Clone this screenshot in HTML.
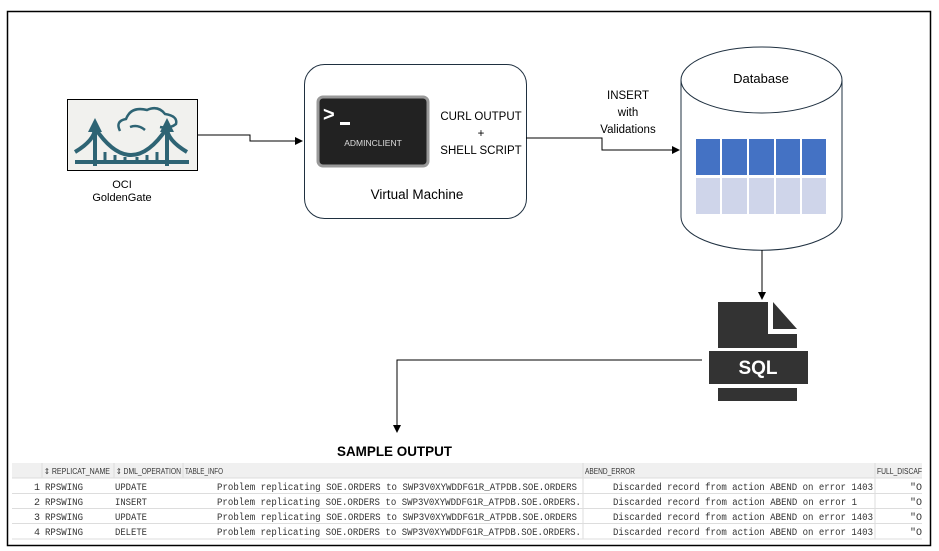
<!DOCTYPE html>
<html><head><meta charset="utf-8"><style>
html,body{margin:0;padding:0;background:#fff;}
svg{display:block;}
text{font-family:"Liberation Sans",sans-serif;}
.m{font-family:"Liberation Mono",monospace;font-size:10px;fill:#333;}
.h{font-size:8px;fill:#333;}
</style></head><body>
<svg width="939" height="551" viewBox="0 0 939 551" xmlns="http://www.w3.org/2000/svg">
<defs><marker id="a" markerWidth="8" markerHeight="8" refX="7" refY="4" orient="auto" markerUnits="userSpaceOnUse"><path d="M0,0 L8,4 L0,8z" fill="#000"/></marker></defs>
<rect x="7.5" y="11.5" width="923" height="534" fill="none" stroke="#000" stroke-width="1.5"/>
<!-- OCI -->
<rect x="67.5" y="99.5" width="130" height="71" fill="#f1f1ee" stroke="#000"/>
<g stroke="#2e6474" fill="none" stroke-width="4">
<path d="M95,126 L95,166 M167,126 L167,166"/>
<path d="M75,152 Q95,140 95,128 Q131,182 167,128 Q167,140 187,152"/>
<path d="M105,152 V163 M115,155 V163 M125,157 V163 M137,157 V163 M147,155 V163 M157,152 V163" stroke-width="3"/>
<path d="M75,162 H189" stroke-width="4"/>
<path d="M120,131 Q115,121 126,119 Q131,106 147,110 Q158,105 165,114 Q178,116 176,124 Q170,129 160,127 M130,127 Q138,124 145,130" stroke-width="2.5"/>
</g>
<path d="M88,132 L95,118 L102,132 M160,132 L167,118 L174,132" fill="#2e6474"/>
<text x="122" y="188" font-size="11" text-anchor="middle">OCI</text>
<text x="122" y="201" font-size="11" text-anchor="middle">GoldenGate</text>
<polyline points="197,135 250,135 250,141 302,141" fill="none" stroke="#000" marker-end="url(#a)"/>
<!-- VM -->
<rect x="304.5" y="64.5" width="222" height="154" rx="20" fill="#fff" stroke="#1f3040"/>
<rect x="318" y="97" width="110" height="69" rx="5" fill="#222" stroke="#999" stroke-width="3"/>
<text x="323" y="121" font-size="20" fill="#fff" font-weight="bold">&gt;</text>
<rect x="340" y="122" width="10" height="3" fill="#fff"/>
<text x="373" y="146" font-size="8.5" fill="#ddd" text-anchor="middle">ADMINCLIENT</text>
<text x="481" y="120" font-size="11.5" text-anchor="middle">CURL OUTPUT</text>
<text x="481" y="137" font-size="11.5" text-anchor="middle">+</text>
<text x="481" y="154" font-size="11.5" text-anchor="middle">SHELL SCRIPT</text>
<text x="417" y="199" font-size="13.5" text-anchor="middle">Virtual Machine</text>
<polyline points="526,138 602,138 602,150 679,150" fill="none" stroke="#000" marker-end="url(#a)"/>
<text x="628" y="99" font-size="11.5" text-anchor="middle">INSERT</text>
<text x="628" y="116" font-size="11.5" text-anchor="middle">with</text>
<text x="628" y="133" font-size="11.5" text-anchor="middle">Validations</text>
<!-- DB -->
<path d="M681,80 V217 A80,33 0 0 0 842,217 V80" fill="#fff" stroke="#1f3040"/>
<ellipse cx="761.5" cy="80" rx="80.5" ry="33" fill="#fff" stroke="#1f3040"/>
<text x="761" y="83" font-size="13" text-anchor="middle">Database</text>
<g fill="#4472c4"><rect x="696" y="139" width="24" height="36"/><rect x="722" y="139" width="25" height="36"/><rect x="749" y="139" width="25" height="36"/><rect x="776" y="139" width="24" height="36"/><rect x="802" y="139" width="24" height="36"/></g>
<g fill="#cfd5ea"><rect x="696" y="178" width="24" height="36"/><rect x="722" y="178" width="25" height="36"/><rect x="749" y="178" width="25" height="36"/><rect x="776" y="178" width="24" height="36"/><rect x="802" y="178" width="24" height="36"/></g>
<line x1="762" y1="250" x2="762" y2="299" stroke="#000" marker-end="url(#a)"/>
<!-- SQL -->
<path d="M718,302 H768 V334 H797 V348 H718Z" fill="#333"/>
<path d="M773,302 L797,329 H773Z" fill="#333"/>
<rect x="709" y="351" width="99" height="33" fill="#333"/>
<text x="758" y="374" font-size="19" font-weight="bold" fill="#fff" text-anchor="middle">SQL</text>
<rect x="718" y="388" width="79" height="13" fill="#333"/>
<polyline points="702,360 397,360 397,432" fill="none" stroke="#000" marker-end="url(#a)"/>
<text x="337" y="456" font-size="14" font-weight="bold" textLength="115" lengthAdjust="spacingAndGlyphs">SAMPLE OUTPUT</text>
<!-- table -->
<rect x="12" y="463" width="910" height="77" fill="#fff"/>
<rect x="12" y="463" width="910" height="15" fill="#f0f0f0"/>
<g stroke="#ddd"><line x1="12" y1="478" x2="922" y2="478"/><line x1="12" y1="493.5" x2="922" y2="493.5"/><line x1="12" y1="508.5" x2="922" y2="508.5"/><line x1="12" y1="523.5" x2="922" y2="523.5"/><line x1="12" y1="539" x2="922" y2="539"/>
<line x1="42" y1="463" x2="42" y2="478"/><line x1="114" y1="463" x2="114" y2="478"/><line x1="183" y1="463" x2="183" y2="478"/><line x1="583" y1="463" x2="583" y2="539"/><line x1="875" y1="463" x2="875" y2="539"/></g>
<text class="h" x="44" y="474" textLength="66" lengthAdjust="spacingAndGlyphs">⇕ REPLICAT_NAME</text>
<text class="h" x="116" y="474" textLength="65" lengthAdjust="spacingAndGlyphs">⇕ DML_OPERATION</text>
<text class="h" x="185" y="474" textLength="38" lengthAdjust="spacingAndGlyphs">TABLE_INFO</text>
<text class="h" x="585" y="474" textLength="50" lengthAdjust="spacingAndGlyphs">ABEND_ERROR</text>
<text class="h" x="877" y="474" textLength="45" lengthAdjust="spacingAndGlyphs">FULL_DISCAF</text>
<g class="m">
<text x="34" y="490" class="m">1</text><text x="45" y="490" class="m" textLength="38" lengthAdjust="spacingAndGlyphs">RPSWING</text><text x="115" y="490" class="m" textLength="32" lengthAdjust="spacingAndGlyphs">UPDATE</text><text x="217" y="490" class="m" textLength="360" lengthAdjust="spacingAndGlyphs">Problem replicating SOE.ORDERS to SWP3V0XYWDDFG1R_ATPDB.SOE.ORDERS</text><text x="613" y="490" class="m" textLength="260" lengthAdjust="spacingAndGlyphs">Discarded record from action ABEND on error 1403</text><text x="910" y="490" class="m">"O</text>
<text x="34" y="505" class="m">2</text><text x="45" y="505" class="m" textLength="38" lengthAdjust="spacingAndGlyphs">RPSWING</text><text x="115" y="505" class="m" textLength="32" lengthAdjust="spacingAndGlyphs">INSERT</text><text x="217" y="505" class="m" textLength="364" lengthAdjust="spacingAndGlyphs">Problem replicating SOE.ORDERS to SWP3V0XYWDDFG1R_ATPDB.SOE.ORDERS.</text><text x="613" y="505" class="m" textLength="244" lengthAdjust="spacingAndGlyphs">Discarded record from action ABEND on error 1</text><text x="910" y="505" class="m">"O</text>
<text x="34" y="520" class="m">3</text><text x="45" y="520" class="m" textLength="38" lengthAdjust="spacingAndGlyphs">RPSWING</text><text x="115" y="520" class="m" textLength="32" lengthAdjust="spacingAndGlyphs">UPDATE</text><text x="217" y="520" class="m" textLength="360" lengthAdjust="spacingAndGlyphs">Problem replicating SOE.ORDERS to SWP3V0XYWDDFG1R_ATPDB.SOE.ORDERS</text><text x="613" y="520" class="m" textLength="260" lengthAdjust="spacingAndGlyphs">Discarded record from action ABEND on error 1403</text><text x="910" y="520" class="m">"O</text>
<text x="34" y="535" class="m">4</text><text x="45" y="535" class="m" textLength="38" lengthAdjust="spacingAndGlyphs">RPSWING</text><text x="115" y="535" class="m" textLength="32" lengthAdjust="spacingAndGlyphs">DELETE</text><text x="217" y="535" class="m" textLength="364" lengthAdjust="spacingAndGlyphs">Problem replicating SOE.ORDERS to SWP3V0XYWDDFG1R_ATPDB.SOE.ORDERS.</text><text x="613" y="535" class="m" textLength="260" lengthAdjust="spacingAndGlyphs">Discarded record from action ABEND on error 1403</text><text x="910" y="535" class="m">"O</text>
</g>
</svg>
</body></html>
